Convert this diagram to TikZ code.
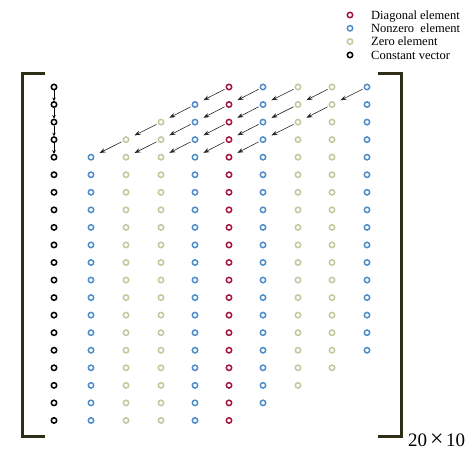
\documentclass[tikz,border=0pt]{standalone}
\usepackage{fontspec}
\setmainfont{Liberation Serif}
\usetikzlibrary{arrows.meta}
\definecolor{diagred}{HTML}{A3143A}
\definecolor{nzblue}{HTML}{4D8DC9}
\definecolor{zerocol}{HTML}{C6C69D}
\definecolor{brk}{HTML}{2E2E16}
\tikzset{
  elem/.style={circle, draw=#1, line width=1.5pt, fill=white, minimum size=5.4pt, inner sep=0pt},
  movearrow/.style={line width=0.6pt, draw=black!85, -{Stealth[length=6pt,width=4.4pt]}, shorten <=1.5pt, shorten >=6pt},
  vmove/.style={line width=0.6pt, -{Stealth[length=3.5pt,width=3.5pt]}},
  matbracket/.style={line width=3pt, draw=brk, line join=miter},
  legtext/.style={anchor=base west, font=\fontsize{12.5}{12.5}\selectfont, inner sep=0pt},
}
\begin{document}
\begin{tikzpicture}[x=1pt,y=-1pt]
\useasboundingbox (0,0) rectangle (474,454);
% brackets
\draw[matbracket] (45,74) -- (22,74) -- (22,436) -- (45,436);
\draw[matbracket] (378,74) -- (401,74) -- (401,436) -- (378,436);
% constant vector
\foreach \r in {0,...,19}{
  \node[elem=black] (n-0-\r) at (54,{87+17.55*\r}) {};
}
% matrix elements
\foreach \c/\cx/\cc in {1/91/nzblue,2/126/zerocol,3/161/zerocol,4/195/nzblue,5/229/diagred,6/263/nzblue,7/298/zerocol,8/332/zerocol,9/367/nzblue}{
  \foreach \r in {0,...,19}{
    \pgfmathtruncatemacro\lo{max(1,5-\r)}
    \pgfmathtruncatemacro\hi{9-max(0,\r-15)}
    \ifnum\c<\lo\else\ifnum\c>\hi\else
      \node[elem=\cc] (n-\c-\r) at (\cx,{87+17.55*\r}) {};
    \fi\fi
  }
}
% shifting arrows
\foreach \r in {0,...,3}{
  \pgfmathtruncatemacro\rn{\r+1}
  \draw[vmove] (n-0-\r) -- (n-0-\rn);
  \foreach \k in {0,...,4}{
    \pgfmathtruncatemacro\c{5-\r+\k}
    \pgfmathtruncatemacro\t{\c-1}
    \draw[movearrow] (n-\c-\r) -- (n-\t-\rn);
  }
}
% legend
\node[elem=diagred] (l1) at (350,15) {};
\node[elem=nzblue] (l2) at (350,28.3) {};
\node[elem=zerocol] (l3) at (350,41.6) {};
\node[elem=black] (l4) at (350,55) {};
\node[legtext] (t1) at (371,19.3) {Diagonal element};
\node[legtext] (t2) at (371,32.6) {Nonzero\ \ element};
\node[legtext] (t3) at (371,45.9) {Zero element};
\node[legtext] (t4) at (371,59.3) {Constant vector};
% size label
\node[anchor=base west, inner sep=0pt, font=\fontsize{19}{19}\selectfont] (sz) at (408,446) {20\makebox[1em]{\scalebox{1.25}{×}}10};
\end{tikzpicture}
\end{document}
